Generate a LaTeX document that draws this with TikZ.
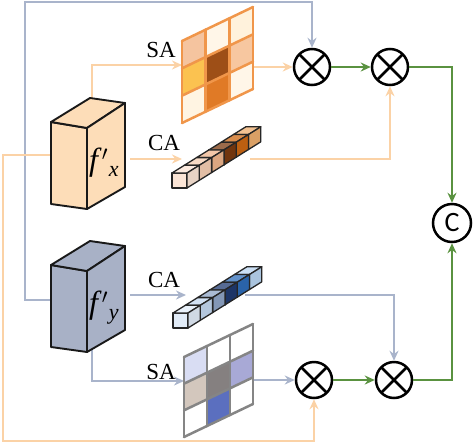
\documentclass[tikz,border=0pt]{standalone}
\usepackage{fontspec}
\setmainfont{Liberation Serif}
\newfontfamily\csans{Carlito}
\usetikzlibrary{arrows.meta,calc}
\definecolor{lorange}{HTML}{FBD2A6}
\definecolor{lblue}{HTML}{A9B4CB}
\definecolor{lgreen}{HTML}{5A9240}
\definecolor{boxo}{HTML}{FDDDB8}
\definecolor{boxb}{HTML}{A8B1C6}
\definecolor{gridO}{HTML}{F0964A}
\definecolor{gridB}{HTML}{858585}
% top grid colours
\definecolor{to1}{HTML}{F5C49F}\definecolor{to2}{HTML}{FFF6E8}\definecolor{to3}{HTML}{FFF2DC}
\definecolor{to4}{HTML}{FBC250}\definecolor{to5}{HTML}{9E4F17}\definecolor{to6}{HTML}{F7C7A0}
\definecolor{to7}{HTML}{FFF4E2}\definecolor{to8}{HTML}{E07A26}\definecolor{to9}{HTML}{FFF6E8}
% bottom grid colours
\definecolor{bo1}{HTML}{D9DDF3}\definecolor{bo2}{HTML}{FFFFFF}\definecolor{bo3}{HTML}{FFFFFF}
\definecolor{bo4}{HTML}{D3C7BD}\definecolor{bo5}{HTML}{858080}\definecolor{bo6}{HTML}{A8A9D6}
\definecolor{bo7}{HTML}{FFFFFF}\definecolor{bo8}{HTML}{5B6FBF}\definecolor{bo9}{HTML}{FFFFFF}
% chain colours
\definecolor{ca1}{HTML}{FBE5D6}\definecolor{ca2}{HTML}{F6CFB3}\definecolor{ca3}{HTML}{EEB48C}
\definecolor{ca4}{HTML}{7B3A0F}\definecolor{ca5}{HTML}{CC6712}\definecolor{ca6}{HTML}{EDAE6E}
\definecolor{cb1}{HTML}{E2ECF8}\definecolor{cb2}{HTML}{C4D8F0}\definecolor{cb3}{HTML}{8EA4C6}
\definecolor{cb4}{HTML}{1F3A70}\definecolor{cb5}{HTML}{2E6CB8}\definecolor{cb6}{HTML}{B9D5F1}
\newcommand{\mycube}[3]{%
  \begin{scope}[shift={(#1,#2)}]
    \filldraw[fill=#3, draw=black!85, line width=1.3pt, line join=round]
      (0,0) -- (15,0) -- (15,-15) -- (0,-15) -- cycle;
    \filldraw[fill=#3!75!white, draw=black!85, line width=1.3pt, line join=round]
      (0,-15) -- (15,-15) -- (27.3,-22.7) -- (12.3,-22.7) -- cycle;
    \filldraw[fill=#3!92!black, draw=black!85, line width=1.3pt, line join=round]
      (15,0) -- (27.3,-7.7) -- (27.3,-22.7) -- (15,-15) -- cycle;
  \end{scope}}
\newcommand{\mygrid}[1]{%
  \foreach \j in {0,1,2,3}{\draw[#1] (0,\j) -- (3,\j); \draw[#1] (\j,0) -- (\j,3);}}
\tikzset{
  conn/.style={line width=2.8pt, -{Stealth[length=10pt,width=9pt]}},
  oline/.style={conn, draw=lorange},
  bline/.style={conn, draw=lblue},
  gline/.style={conn, draw=lgreen},
  mulop/.style={circle, draw, line width=2.5pt, minimum size=36pt, inner sep=0pt,
    path picture={\draw[line width=2.5pt]
      (path picture bounding box.north east) -- (path picture bounding box.south west)
      (path picture bounding box.north west) -- (path picture bounding box.south east);}},
  catop/.style={circle, draw, line width=2.5pt, minimum size=38pt, inner sep=0pt,
    font=\csans\fontsize{28}{28}\selectfont},
  lbl/.style={font=\fontsize{23}{23}\selectfont, inner sep=0pt},
  boxline/.style={line width=1.9pt, draw=black!90, line join=round},
  gridlineO/.style={draw=gridO, line width=2.5pt, line cap=round},
  gridlineB/.style={draw=gridB, line width=2.5pt, line cap=round},
}
\begin{document}
\begin{tikzpicture}[x=1pt,y=-1pt]
\useasboundingbox (0,0) rectangle (474,445);
% operator nodes
\node[mulop] (m1) at (312,67) {};
\node[mulop] (m2) at (390,67) {};
\node[mulop] (m3) at (314,380) {};
\node[mulop] (m4) at (394,380) {};
\node[catop] (cc) at (452,223) {C};
% named coordinates for connector ends
\coordinate (xl) at (60,155);
\coordinate (yl) at (60,300);
\coordinate (xt) at (92,110);
\coordinate (yb) at (92,340);
\coordinate (xca) at (130,159);
\coordinate (yca) at (130,295);
\coordinate (gxin) at (182,65);
\coordinate (gyin) at (184,381);
\coordinate (gxout) at (253,67);
\coordinate (gyout) at (253,380);
\coordinate (cxin) at (182,159);
\coordinate (cyin) at (186,295);
\coordinate (cxout) at (250,159);
\coordinate (cyout) at (245,295);
% connectors
\draw[bline] (yl) -- (25,300) -- (25,2) -| (m1.north);
\draw[oline] (xl) -- (3,155) -- (3,441) -| (m3.south);
\draw[oline] (xt) |- (gxin);
\draw[oline] (gxout) -- (m1.west);
\draw[oline] (xca) -- (cxin);
\draw[oline] (cxout) -| (m2.south);
\draw[bline] (yb) |- (gyin);
\draw[bline] (gyout) -- (m3.west);
\draw[bline] (yca) -- (cyin);
\draw[bline] (cyout) -| (m4.north);
\draw[gline] (m1.east) -- (m2.west);
\draw[gline] (m2.east) -| (cc.north);
\draw[gline] (m3.east) -- (m4.west);
\draw[gline] (m4.east) -| (cc.south);
% boxes
\filldraw[boxline, fill=boxo] (51,122) -- (87,128) -- (87,209) -- (51,204) -- cycle;
\filldraw[boxline, fill=boxo] (51,122) -- (90,98) -- (125,103) -- (87,128) -- cycle;
\filldraw[boxline, fill=boxo] (87,128) -- (125,103) -- (125,187) -- (87,209) -- cycle;
\filldraw[boxline, fill=boxb] (51,265) -- (87,271) -- (87,352) -- (51,347) -- cycle;
\filldraw[boxline, fill=boxb] (51,265) -- (90,241) -- (125,246) -- (87,271) -- cycle;
\filldraw[boxline, fill=boxb] (87,271) -- (125,246) -- (125,330) -- (87,352) -- cycle;
\node[anchor=base west, inner sep=0pt] (fx) at (89,170)
  {\fontsize{32}{32}\selectfont\textit{f}$'$\kern1pt\raisebox{-6pt}{\fontsize{22}{22}\selectfont\textit{x}}};
\node[anchor=base west, inner sep=0pt] (fy) at (89,313)
  {\fontsize{32}{32}\selectfont\textit{f}$'$\kern1pt\raisebox{-6pt}{\fontsize{22}{22}\selectfont\textit{y}}};
% top SA grid
\begin{scope}[shift={(182,41)}, x={(23.667pt,11.333pt)}, y={(0pt,-27.333pt)}]
  \foreach \c [count=\k from 0] in {to1,to2,to3,to4,to5,to6,to7,to8,to9}{
    \pgfmathtruncatemacro\col{mod(\k,3)}
    \pgfmathtruncatemacro\row{div(\k,3)}
    \fill[\c] (\col,\row) -- ++(1,0) -- ++(0,1) -- ++(-1,0) -- cycle;}
  \mygrid{gridlineO}
\end{scope}
% bottom SA grid
\begin{scope}[shift={(184,357)}, x={(23pt,11pt)}, y={(0pt,-26.667pt)}]
  \foreach \c [count=\k from 0] in {bo1,bo2,bo3,bo4,bo5,bo6,bo7,bo8,bo9}{
    \pgfmathtruncatemacro\col{mod(\k,3)}
    \pgfmathtruncatemacro\row{div(\k,3)}
    \fill[\c] (\col,\row) -- ++(1,0) -- ++(0,1) -- ++(-1,0) -- cycle;}
  \mygrid{gridlineB}
\end{scope}
% CA chains
\foreach \i/\c in {5/ca6,4/ca5,3/ca4,2/ca3,1/ca2,0/ca1}{\mycube{172+12.3*\i}{188-7.7*\i}{\c}}
\foreach \i/\c in {5/cb6,4/cb5,3/cb4,2/cb3,1/cb2,0/cb1}{\mycube{173+12.3*\i}{328-7.7*\i}{\c}}
% labels
\node[lbl] (sa1) at (161,50) {SA};
\node[lbl] (ca1) at (164,143) {CA};
\node[lbl] (ca2) at (164,280) {CA};
\node[lbl] (sa2) at (161,372) {SA};
\end{tikzpicture}
\end{document}
